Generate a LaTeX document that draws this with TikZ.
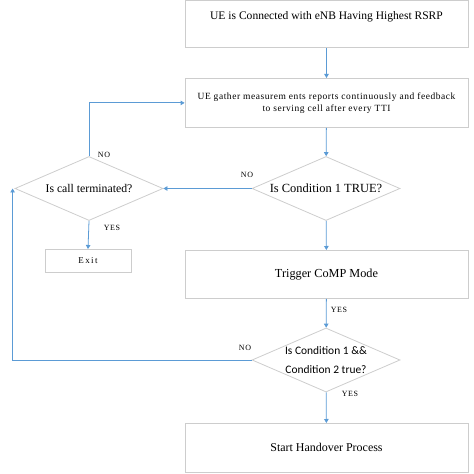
\documentclass[tikz,border=0pt]{standalone}
\usepackage{fontspec}
\setmainfont{Liberation Serif}
\newfontfamily\calib{Carlito}
\usetikzlibrary{arrows.meta, positioning, shapes.geometric}
\definecolor{flowblue}{RGB}{91,155,213}
\definecolor{edgegray}{RGB}{205,205,205}

\begin{document}
\begin{tikzpicture}[x=1bp, y=-1bp,
    procbox/.style={draw=edgegray, line width=0.8bp, rectangle, minimum width=283bp, inner sep=2bp, align=center},
    decide/.style={draw=edgegray, line width=0.8bp, diamond, aspect=2.3, inner sep=0bp, minimum width=148bp, minimum height=64bp, align=center},
    flow/.style={draw=flowblue, line width=0.8bp, -{Triangle[length=4bp, width=4.5bp]}},
    tag/.style={font=\fontsize{8}{9}\selectfont\addfontfeature{LetterSpace=8}}]
  \useasboundingbox (0,0) rectangle (474,474);
  % boxes
  \node[procbox, minimum height=47bp, anchor=north] (conn) at (326.5,0.5) {};
  \node[anchor=north, font=\fontsize{11.6}{13}\selectfont] (conntxt) at ([yshift=-7bp]conn.north) {UE is Connected with eNB Having Highest RSRP};
  \node[procbox, minimum height=49bp, anchor=north, font=\fontsize{9.5}{12}\selectfont\addfontfeature{LetterSpace=6}] (gather) at (326.5,78) {UE gather measurem ents reports continuously and feedback\\to serving cell after every TTI};
  \node[decide, font=\fontsize{12.5}{14}\selectfont] (cond1) at (326,188.5) {Is Condition 1 TRUE?};
  \node[decide, font=\fontsize{11.8}{14}\selectfont] (callend) at (89,188.5) {Is call terminated?};
  \node[draw=edgegray, line width=0.8bp, minimum width=86bp, minimum height=23bp, font=\fontsize{9}{10}\selectfont\addfontfeature{LetterSpace=16}, anchor=north] (exit) at (88,249) {Exit};
  \node[procbox, minimum height=48bp, anchor=north, font=\fontsize{12.3}{14}\selectfont] (comp) at (326.5,250) {Trigger CoMP Mode};
  \node[decide, font=\calib\fontsize{11.5}{19}\selectfont] (cond2) at (326,360) {Is Condition 1 \&\&\\Condition 2 true?};
  \node[procbox, minimum height=49bp, anchor=north, font=\fontsize{12}{14}\selectfont] (handover) at (326.5,423) {Start Handover Process};
  % connectors
  \draw[flow] (conn) -- (gather);
  \draw[flow] (gather) -- (cond1);
  \draw[flow] (cond1) -- (comp);
  \draw[flow] (comp) -- (cond2);
  \draw[flow] (cond2) -- (handover);
  \draw[flow] (cond1.west) -- (callend.east);
  \draw[flow] (callend.north) |- (gather.west);
  \draw[flow] (callend.south) -- (exit.north);
  \draw[flow] (cond2.west) -| ([xshift=-2bp]callend.west);
  % labels
  \node[tag] (no1) at (104,155) {NO};
  \node[tag] (no2) at (247,175) {NO};
  \node[tag] (yes1) at (112,228) {YES};
  \node[tag] (yes2) at (339,310) {YES};
  \node[tag] (no3) at (245,348) {NO};
  \node[tag] (yes3) at (350,394) {YES};
\end{tikzpicture}
\end{document}
